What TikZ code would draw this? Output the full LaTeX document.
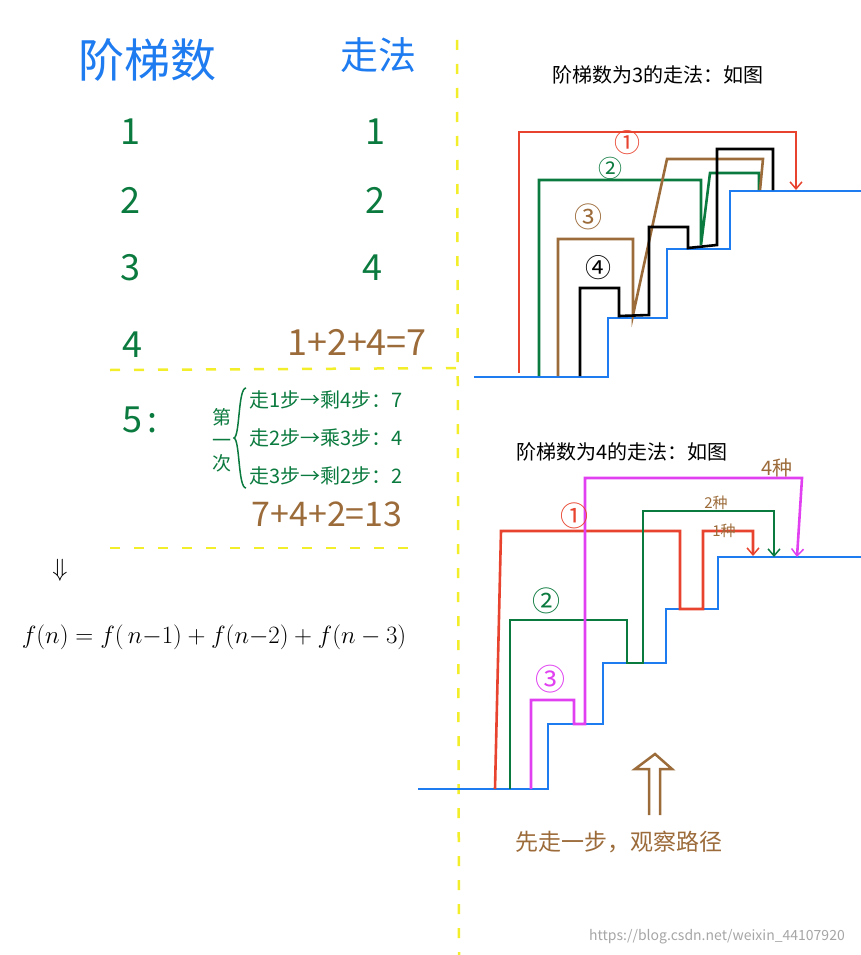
\documentclass[tikz,border=0pt]{standalone}
\usepackage{fontspec}
\setmainfont{Noto Sans CJK SC}
\usetikzlibrary{arrows.meta}
\definecolor{cred}{HTML}{E8432E}
\definecolor{cgreen}{HTML}{0B7A3E}
\definecolor{cbrown}{HTML}{9C6B3A}
\definecolor{cblue}{HTML}{1E7BF0}
\definecolor{cmag}{HTML}{E040F0}
\definecolor{cyel}{HTML}{F3EE2A}
\begin{document}
\begin{tikzpicture}[x=1pt,y=-1pt,line width=2.6pt,
  path/.style={line join=miter},
  arr/.style={-{Straight Barb[length=7pt,width=12pt,line width=1.5pt]}},
  ydash/.style={cyel,line width=2.5pt,dash pattern=on 10pt off 14pt},
  lbl/.style={inner sep=0pt}]
\useasboundingbox (0,0) rectangle (861,955);
% yellow dividers
\draw[ydash] (457,40) -- (459,955);
\draw[ydash] (110,370) -- (465,368);
\draw[ydash] (110,548) -- (420,548);
% left table
\node[lbl,cblue,font=\fontsize{46}{46}\selectfont] (h1) at (147,60) {阶梯数};
\node[lbl,cblue,font=\fontsize{38}{38}\selectfont] (h2) at (378,55) {走法};
\begin{scope}[every node/.style={lbl,cgreen,font=\fontsize{36}{36}\selectfont}]
\node (a1) at (130,132) {1}; \node (a2) at (130,200) {2};
\node (a3) at (130,268) {3}; \node (a4) at (132,345) {4};
\node (b1) at (375,132) {1}; \node (b2) at (375,200) {2};
\node (b3) at (372,268) {4};
\node (a5) at (140,420) {5\,:};
\end{scope}
\node[lbl,cbrown,font=\fontsize{36}{36}\selectfont] (b4) at (357,342) {1+2+4=7};
\node[lbl,cgreen,font=\fontsize{19}{23}\selectfont,align=center] (di) at (222,440) {第\\一\\次};
\draw[cgreen,line width=1.5pt] (246,388) .. controls (238,388) and (240,436) .. (234,438) .. controls (240,440) and (238,488) .. (246,488);
\begin{scope}[every node/.style={lbl,cgreen,font=\fontsize{20}{20}\selectfont,anchor=west}]
\node (l1) at (248,400) {走1步→剩4步：7};
\node (l2) at (248,438) {走2步→乘3步：4};
\node (l3) at (248,476) {走3步→剩2步：2};
\end{scope}
\node[lbl,cbrown,font=\fontsize{34}{34}\selectfont] (sum) at (327,514) {7+4+2=13};
\node[lbl,font=\fontsize{30}{30}\selectfont] (dar) at (60,570) {$\Downarrow$};
\node[lbl,font=\fontsize{45}{45}\selectfont] (fm) at (214,637) {$f(n)=f(\,n{-}1)+f(n{-}2)+f(n-3)$};
% titles
\node[lbl,font=\fontsize{20}{20}\selectfont] (t1) at (658,75) {阶梯数为3的走法：如图};
\node[lbl,font=\fontsize{20}{20}\selectfont] (t2) at (622,452) {阶梯数为4的走法：如图};
% top staircase
\draw[cblue,path] (474,377) -- (608,377) -- (608,318) -- (667,318) -- (667,249) -- (730,249) -- (730,191) -- (861,191);
\draw[cred,path,arr] (519,373) -- (519,132) -- (796,132) -- (796,190);
\draw[cgreen,path] (539,376) -- (539,180) -- (701,180) -- (701,245) -- (710,173) -- (759,173) -- (759,190);
\draw[cbrown,path] (558,376) -- (558,239) -- (633,239) -- (633,315) -- (667,159) -- (763,159) -- (760,190);
\draw[black,path] (580,376) -- (580,288) -- (619,288) -- (619,316) -- (649,315) -- (649,227) -- (688,227) -- (688,248) -- (717,245) -- (717,149) -- (773,149) -- (773,190);
\node[lbl,cred,font=\fontsize{26}{26}\selectfont] (c1) at (627,143) {①};
\node[lbl,cgreen,font=\fontsize{24}{24}\selectfont] (c2) at (610,168) {②};
\node[lbl,cbrown,font=\fontsize{28}{28}\selectfont] (c3) at (588,217) {③};
\node[lbl,black,font=\fontsize{26}{26}\selectfont] (c4) at (598,268) {④};
% bottom staircase
\draw[cblue,path] (418,789) -- (548,789) -- (548,724) -- (603,724) -- (603,663) -- (666,663) -- (666,609) -- (718,609) -- (718,557) -- (861,557);
\draw[cred,path,arr] (495,789) -- (501,531) -- (680,531) -- (680,609) -- (703,609) -- (703,531) -- (753,531) -- (753,556);
\draw[cgreen,path,arr] (510,789) -- (510,620) -- (627,620) -- (627,663) -- (643,663) -- (643,511) -- (774,511) -- (774,557);
\draw[cmag,path,arr] (531,789) -- (531,700) -- (574,700) -- (574,724) -- (585,724) -- (585,478) -- (802,478) -- (797,557);
\node[lbl,cred,font=\fontsize{28}{28}\selectfont] (d1) at (574,516) {①};
\node[lbl,cgreen,font=\fontsize{28}{28}\selectfont] (d2) at (546,601) {②};
\node[lbl,cmag,font=\fontsize{30}{30}\selectfont] (d3) at (550,679) {③};
\node[lbl,cbrown,font=\fontsize{20}{20}\selectfont] (k4) at (777,468) {4种};
\node[lbl,cbrown,font=\fontsize{15}{15}\selectfont] (k2) at (716,503) {2种};
\node[lbl,cbrown,font=\fontsize{15}{15}\selectfont] (k1) at (724,531) {1种};
% hollow arrow
\draw[cbrown,line width=2.5pt,line join=miter] (649,815) -- (649,769) -- (635,769) -- (655,754) -- (672,769) -- (660,769) -- (660,815);
\node[lbl,cbrown,font=\fontsize{23}{23}\selectfont] (obs) at (619,842) {先走一步，观察路径};
\node[lbl,gray!70,font=\fontsize{14}{14}\selectfont] (wm) at (717,937) {https://blog.csdn.net/weixin\_44107920};
\end{tikzpicture}
\end{document}
